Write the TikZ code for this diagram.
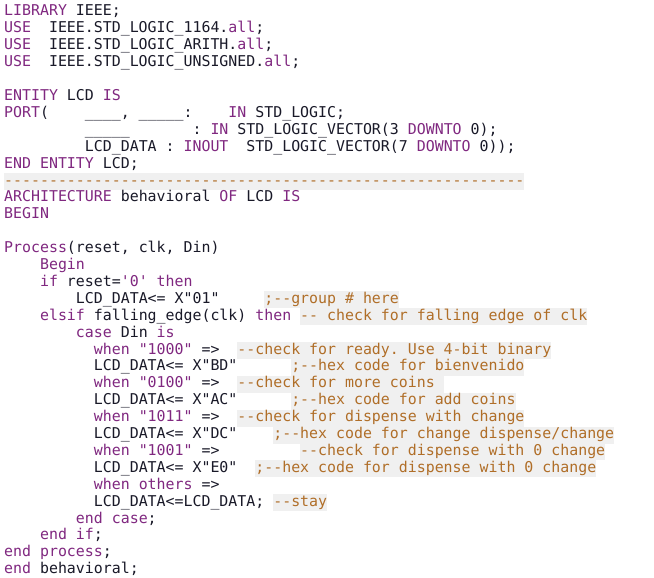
\documentclass[tikz,border=0pt]{standalone}
\usepackage{fontspec}
\setmonofont{DejaVu Sans Mono}
\usepackage{xcolor}
\definecolor{kw}{RGB}{128,40,128}
\definecolor{cm}{RGB}{176,110,40}
\definecolor{cbg}{RGB}{240,240,240}
\definecolor{tx}{RGB}{25,25,40}
\newcommand\K[1]{\textcolor{kw}{#1}}
\newcommand\Cm[1]{{\setlength\fboxsep{0pt}\colorbox{cbg}{\textcolor{cm}{\strut #1}}}}
\tikzset{codeline/.style={anchor=base west,inner sep=0pt,text=tx,font=\ttfamily\fontsize{14.9}{16.9}\selectfont}}
\newcommand\Ln[2]{\node[codeline] (l#1) at (4pt,{-16pt-16.9pt*(#1-1)}) {#2};}
\begin{document}
\begin{tikzpicture}
\useasboundingbox (0,0) rectangle (654pt,-578pt);
\fill[white] (0,0) rectangle (654pt,-578pt);
\Ln{1}{\K{LIBRARY} IEEE;}
\Ln{2}{\K{USE}~~IEEE.STD\_LOGIC\_1164.\K{all};}
\Ln{3}{\K{USE}~~IEEE.STD\_LOGIC\_ARITH.\K{all};}
\Ln{4}{\K{USE}~~IEEE.STD\_LOGIC\_UNSIGNED.\K{all};}
\Ln{6}{\K{ENTITY} LCD \K{IS}}
\Ln{7}{\K{PORT}(~~~~\_\_\_\_,~\_\_\_\_\_:~~~~\K{IN} STD\_LOGIC;}
\Ln{8}{~~~~~~~~~\_\_\_\_\_~~~~~~~:~\K{IN} STD\_LOGIC\_VECTOR(3 \K{DOWNTO} 0);}
\Ln{9}{~~~~~~~~~LCD\_DATA~:~\K{INOUT}~~STD\_LOGIC\_VECTOR(7 \K{DOWNTO} 0));}
\Ln{10}{\K{END ENTITY} LCD;}
\Ln{11}{\Cm{----------------------------------------------------------}}
\Ln{12}{\K{ARCHITECTURE} behavioral \K{OF} LCD \K{IS}}
\Ln{13}{\K{BEGIN}}
\Ln{15}{\K{Process}(reset, clk, Din)}
\Ln{16}{~~~~\K{Begin}}
\Ln{17}{~~~~\K{if} reset=\K{'0'} \K{then}}
\Ln{18}{~~~~~~~~LCD\_DATA<=~X"01"~~~~~\Cm{;--group \# here}}
\Ln{19}{~~~~\K{elsif} falling\_edge(clk) \K{then} \Cm{-- check for falling edge of clk}}
\Ln{20}{~~~~~~~~\K{case} Din \K{is}}
\Ln{21}{~~~~~~~~~~\K{when} \K{"1000"} =>~~\Cm{--check for ready. Use 4-bit binary}}
\Ln{22}{~~~~~~~~~~LCD\_DATA<=~X"BD"~~~~~~\Cm{;--hex code for bienvenido}}
\Ln{23}{~~~~~~~~~~\K{when} \K{"0100"} =>~~\Cm{--check for more coins~}}
\Ln{24}{~~~~~~~~~~LCD\_DATA<=~X"AC"~~~~~~\Cm{;--hex code for add coins}}
\Ln{25}{~~~~~~~~~~\K{when} \K{"1011"} =>~~\Cm{--check for dispense with change}}
\Ln{26}{~~~~~~~~~~LCD\_DATA<=~X"DC"~~~~\Cm{;--hex code for change dispense/change}}
\Ln{27}{~~~~~~~~~~\K{when} \K{"1001"} =>~~~~~~~~~\Cm{--check for dispense with 0 change}}
\Ln{28}{~~~~~~~~~~LCD\_DATA<=~X"E0"~~\Cm{;--hex code for dispense with 0 change}}
\Ln{29}{~~~~~~~~~~\K{when others} =>}
\Ln{30}{~~~~~~~~~~LCD\_DATA<=LCD\_DATA; \Cm{--stay}}
\Ln{31}{~~~~~~~~\K{end case};}
\Ln{32}{~~~~\K{end if};}
\Ln{33}{\K{end process};}
\Ln{34}{\K{end} behavioral;}
\end{tikzpicture}
\end{document}
